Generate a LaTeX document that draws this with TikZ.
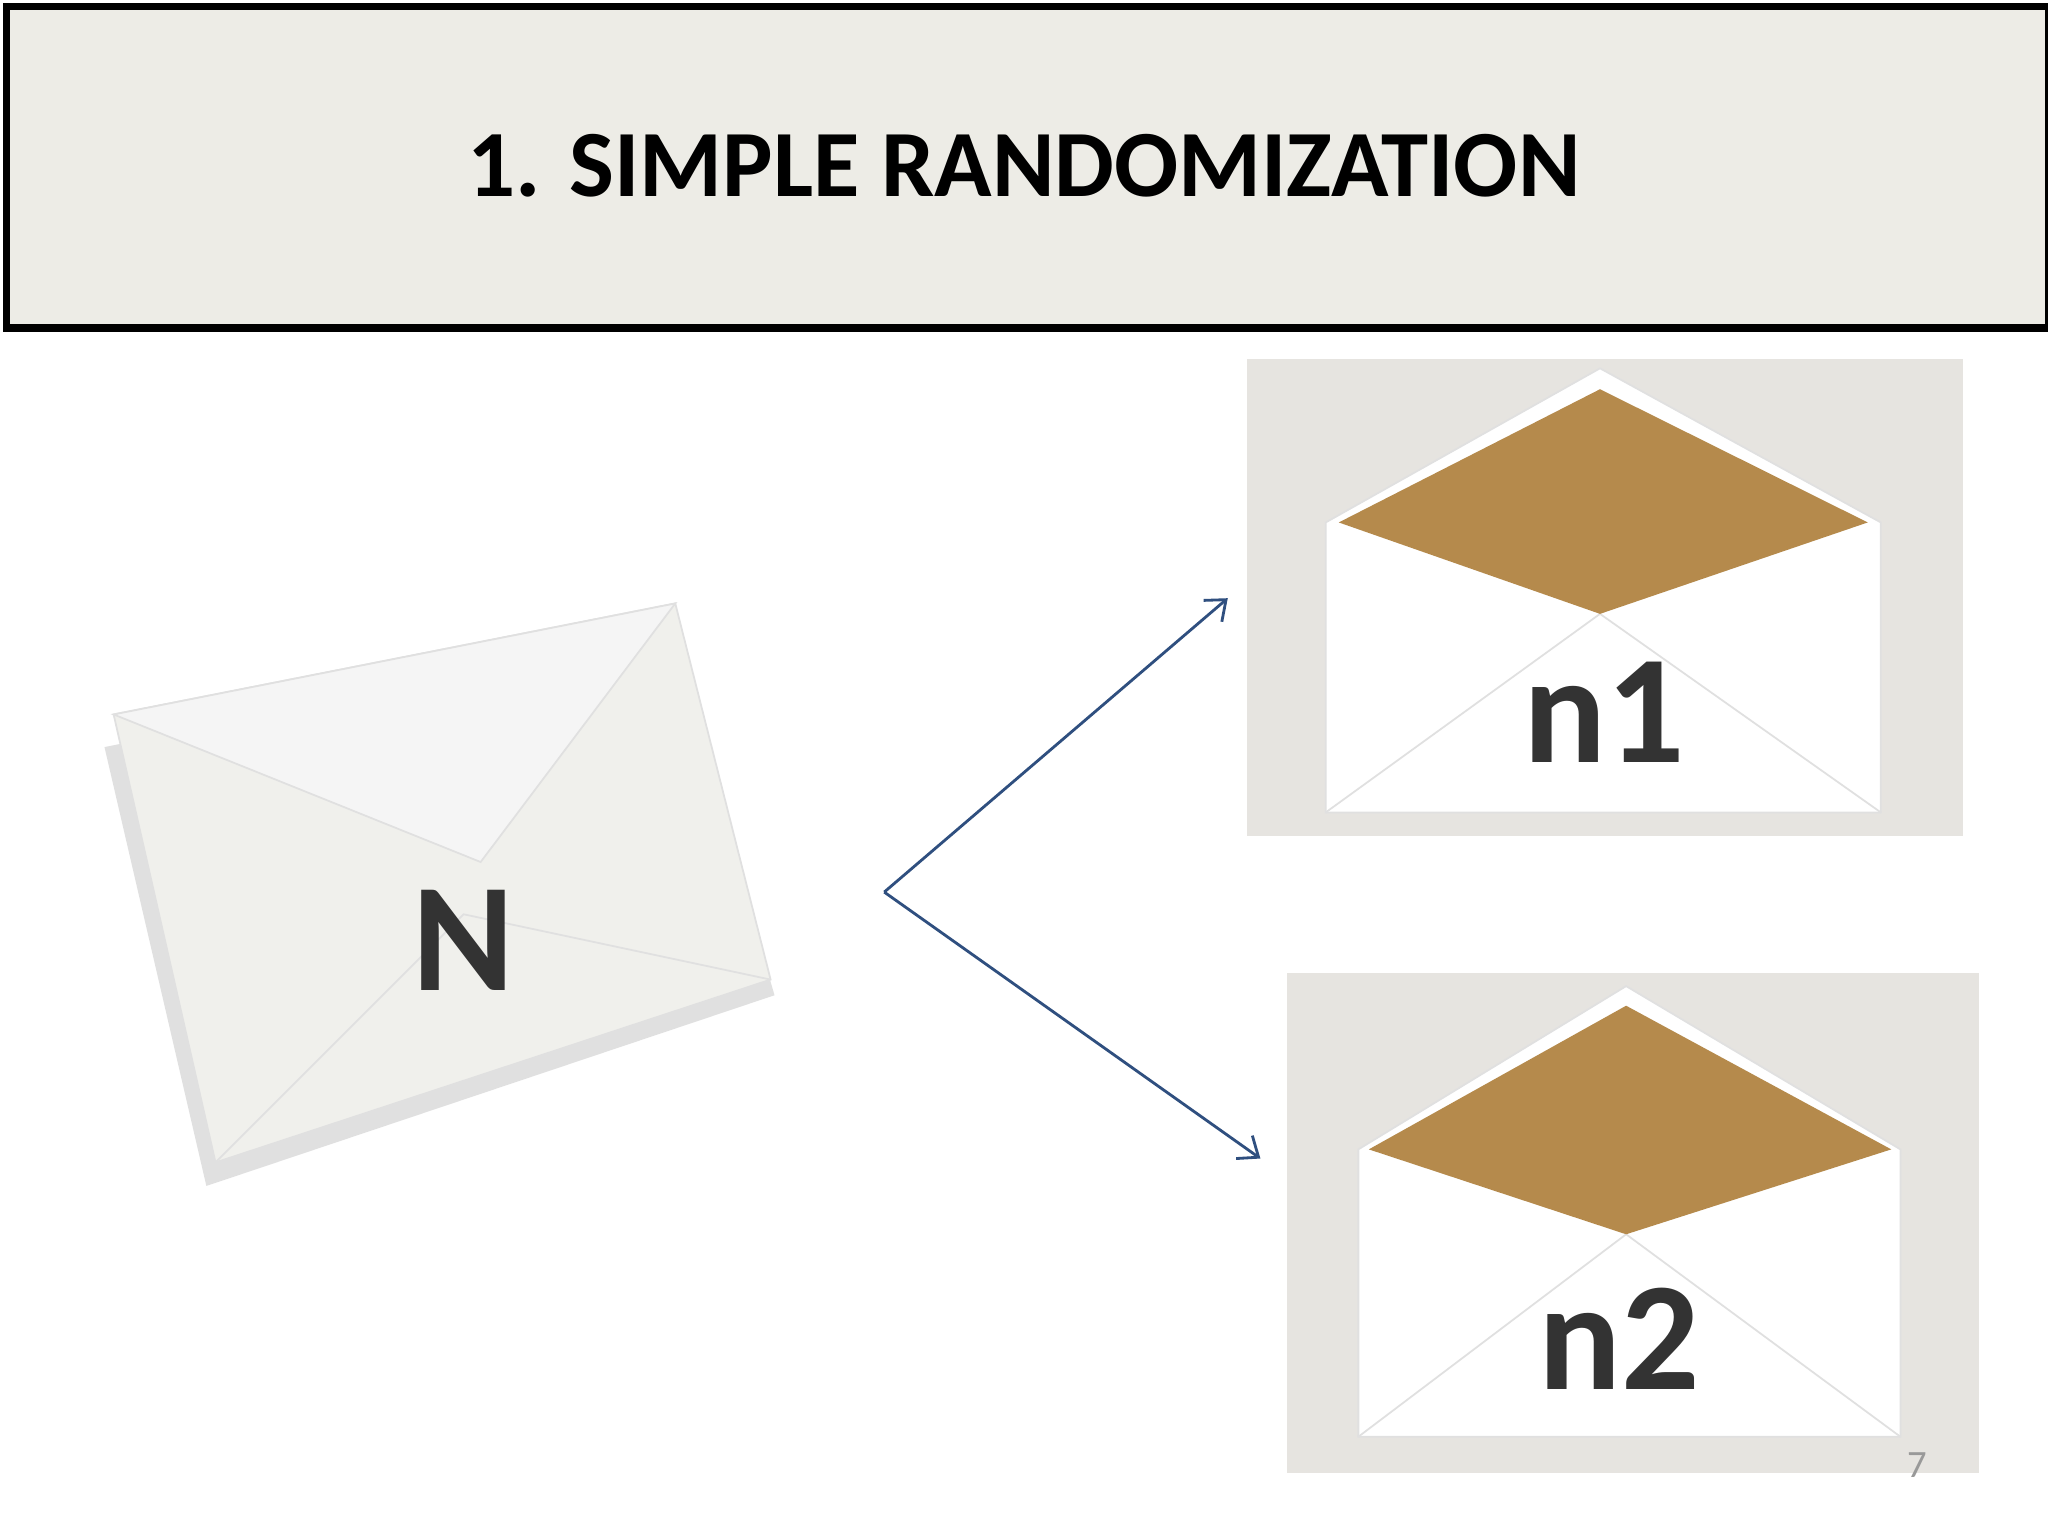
\documentclass[tikz,border=0pt]{standalone}
\usepackage{fontspec}
\setmainfont{Carlito}
\usetikzlibrary{arrows.meta}
\definecolor{titlebg}{HTML}{EDECE6}
\definecolor{photobg}{HTML}{E6E4E0}
\definecolor{gold}{HTML}{B58A4C}
\definecolor{arrowc}{HTML}{2F4F7F}
\definecolor{envw}{HTML}{F0F0EC}
\tikzset{
  lbl/.style={font=\bfseries\fontsize{44}{44}\selectfont, text=black!80, draw=none},
  conn/.style={draw=arrowc, line width=0.8pt, -{Straight Barb[length=5pt,width=8pt]}},
  envline/.style={draw=black!12, line width=0.5pt}
}
\begin{document}
\begin{tikzpicture}[x=0.013061cm, y=-0.013061cm]
\useasboundingbox (0,0) rectangle (1568,1176);
\fill[white] (0,0) rectangle (1568,1176);
% title
\node[draw=black, line width=2.2pt, fill=titlebg, minimum width=1564*0.013061cm, minimum height=246*0.013061cm, inner sep=0, anchor=north west] (title) at (2,2) {};
\node[font=\bfseries\fontsize{27}{27}\selectfont] (ttext) at (784,127) {1. SIMPLE RANDOMIZATION};
% left envelope
\fill[black!20, opacity=0.6] (80,572) -- (512,485) -- (593,762) -- (158,908) -- cycle;
\filldraw[fill=envw, envline] (87,547) -- (517,462) -- (590,750) -- (165,890) -- cycle;
\draw[envline] (165,890) -- (355,700) -- (590,750);
\filldraw[fill=white!96!black, envline] (87,547) -- (368,660) -- (517,462) -- cycle;
\node[lbl] (N) at (355,720) {N};
% right envelope 1
\fill[photobg] (955,275) rectangle (1503,640);
\filldraw[fill=white, envline] (1015,400) -- (1225,282) -- (1440,400) -- (1440,622) -- (1015,622) -- cycle;
\draw[envline] (1015,622) -- (1225,470) -- (1440,622);
\fill[gold] (1025,400) -- (1225,298) -- (1430,400) -- (1225,470) -- cycle;
\node[lbl] (n1) at (1228,545) {n1};
% right envelope 2
\fill[photobg] (985,745) rectangle (1515,1128);
\filldraw[fill=white, envline] (1040,880) -- (1245,755) -- (1455,880) -- (1455,1100) -- (1040,1100) -- cycle;
\draw[envline] (1040,1100) -- (1245,945) -- (1455,1100);
\fill[gold] (1048,880) -- (1245,770) -- (1448,880) -- (1245,945) -- cycle;
\node[lbl] (n2) at (1240,1025) {n2};
% arrows
\coordinate (src) at (677,683);
\coordinate (t1) at (940,458);
\coordinate (t2) at (965,887);
\draw[conn] (src) -- (t1);
\draw[conn] (src) -- (t2);
\node[text=black!40, font=\fontsize{11}{11}\selectfont] (pg) at (1468,1122) {7};
\end{tikzpicture}
\end{document}
